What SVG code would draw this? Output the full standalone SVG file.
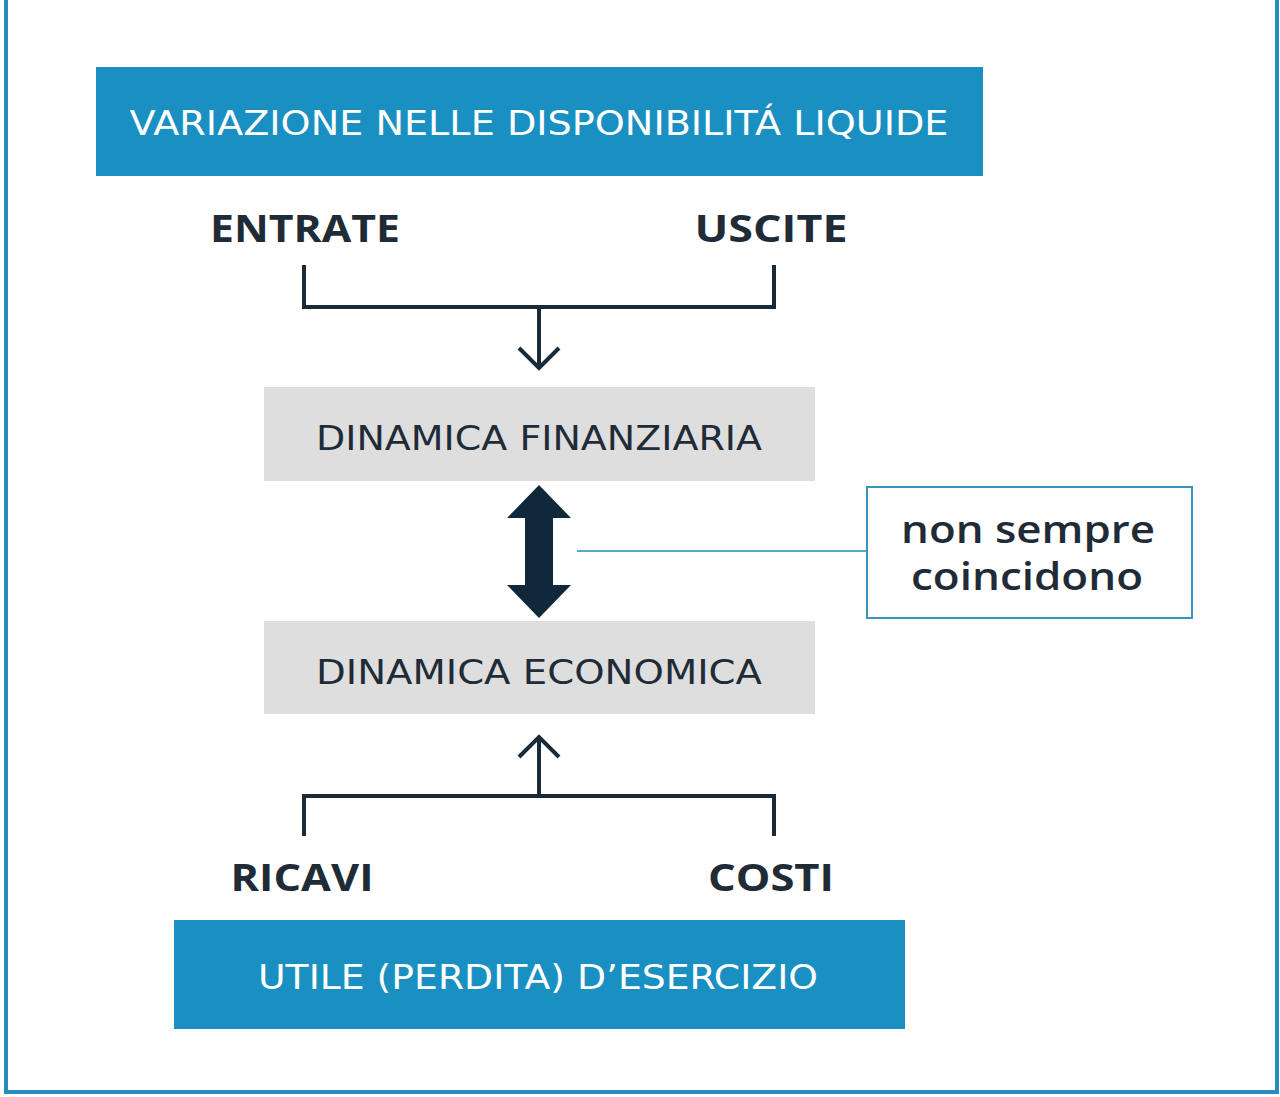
<svg xmlns="http://www.w3.org/2000/svg" width="1280" height="1097" viewBox="0 0 1280 1097">
<style>
.blue{fill:#1a8fc1}
.gray{fill:#dedede}
.wt{fill:#ffffff;font-family:"DejaVu Sans","Open Sans",sans-serif;font-size:33px;text-anchor:middle}
.gt{fill:#1f2b36;font-family:"DejaVu Sans","Open Sans",sans-serif;font-size:33px;text-anchor:middle}
.lbl{fill:#1f2b36;font-family:"Open Sans","DejaVu Sans",sans-serif;font-size:37px;font-weight:700;text-anchor:middle}
.note{fill:#1f2b36;font-family:"Open Sans","DejaVu Sans",sans-serif;font-size:37px;font-weight:600;text-anchor:middle}
.ln{fill:none;stroke:#1a2a36;stroke-width:4}
</style>
<rect x="0" y="0" width="1280" height="1097" fill="#ffffff"/>
<rect x="6" y="-20" width="1271" height="1112" fill="none" stroke="#2a8cbc" stroke-width="4"/>
<g id="connectors">
<path class="ln" d="M304 265 V307 H774 V265 M539 307 V368"/>
<path class="ln" d="M519 348 L539 368 L559 348"/>
<path class="ln" d="M304 836 V796 H774 V836 M539 796 V737"/>
<path class="ln" d="M519 757 L539 737 L559 757"/>
<path d="M539 485 L571 518 L553 518 L553 585 L571 585 L539 618 L507 585 L525 585 L525 518 L507 518 Z" fill="#10293a"/>
<line x1="577" y1="551" x2="867" y2="551" stroke="#5aa6c6" stroke-width="2"/>
</g>
<g id="node-variazione">
<rect class="blue" x="96" y="67" width="887" height="109"/>
<text class="wt" x="539" y="135" textLength="819" lengthAdjust="spacingAndGlyphs">VARIAZIONE NELLE DISPONIBILITÁ LIQUIDE</text>
</g>
<g id="node-entrate"><text class="lbl" x="305" y="242" textLength="190" lengthAdjust="spacingAndGlyphs">ENTRATE</text></g>
<g id="node-uscite"><text class="lbl" x="771" y="242" textLength="153" lengthAdjust="spacingAndGlyphs">USCITE</text></g>
<g id="node-finanziaria">
<rect class="gray" x="264" y="387" width="551" height="94"/>
<text class="gt" x="539" y="450" textLength="446" lengthAdjust="spacingAndGlyphs">DINAMICA FINANZIARIA</text>
</g>
<g id="node-note">
<rect x="867" y="487" width="325" height="131" fill="#ffffff" stroke="#3596c2" stroke-width="2"/>
<text class="note" x="1028" y="543" textLength="254" lengthAdjust="spacingAndGlyphs">non sempre</text>
<text class="note" x="1027" y="590" textLength="232" lengthAdjust="spacingAndGlyphs">coincidono</text>
</g>
<g id="node-economica">
<rect class="gray" x="264" y="621" width="551" height="93"/>
<text class="gt" x="539" y="684" textLength="446" lengthAdjust="spacingAndGlyphs">DINAMICA ECONOMICA</text>
</g>
<g id="node-ricavi"><text class="lbl" x="302" y="891" textLength="143" lengthAdjust="spacingAndGlyphs">RICAVI</text></g>
<g id="node-costi"><text class="lbl" x="771" y="891" textLength="126" lengthAdjust="spacingAndGlyphs">COSTI</text></g>
<g id="node-utile">
<rect class="blue" x="174" y="920" width="731" height="109"/>
<text class="wt" x="538" y="989" textLength="560" lengthAdjust="spacingAndGlyphs">UTILE (PERDITA) D’ESERCIZIO</text>
</g>
</svg>
